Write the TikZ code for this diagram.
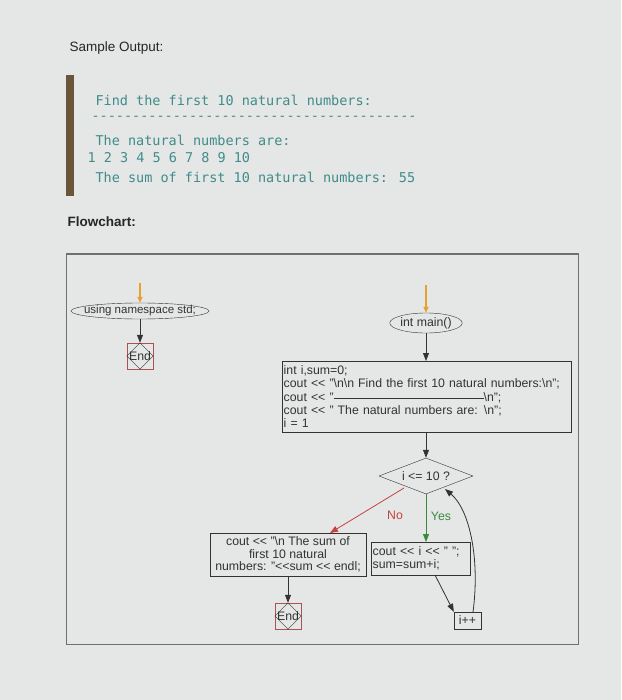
\documentclass[tikz,border=0pt]{standalone}
\usepackage{fontspec}
\setmainfont{Liberation Sans}[Ligatures=ResetAll]
\newfontfamily\consfont{DejaVu Sans Mono}
\usetikzlibrary{shapes.geometric,arrows.meta}
\definecolor{bg}{HTML}{E4E7E6}
\definecolor{cons}{HTML}{3F8C8A}
\definecolor{bar}{HTML}{6B5538}
\definecolor{fg}{HTML}{333333}
\definecolor{endred}{HTML}{B05050}
\definecolor{orng}{HTML}{E8A030}
\definecolor{noc}{HTML}{C84040}
\definecolor{yesc}{HTML}{3C8A3C}
\tikzset{
 px/.style={x=1pt,y=-1pt},
 ft/.style={font=\fontsize{12.3}{12.8}\selectfont, text=fg},
 procbox/.style={draw=fg, ft, inner sep=1.5pt},
 term/.style={draw=fg, ellipse, ft, inner sep=0pt},
 arr/.style={-{Triangle[length=8pt,width=6pt]}, draw=fg, line width=0.8pt},
 cline/.style={font=\consfont\fontsize{13.5}{15}\selectfont, text=cons, anchor=west},
}
\newcommand{\myll}{<{}<}
\newcommand{\myendmark}[2]{%
 \node[draw=endred, minimum size=26pt, inner sep=0pt] (#1) at #2 {};
 \draw[fg] (#1.north) -- (#1.east) -- (#1.south) -- (#1.west) -- cycle;
 \node[ft] at (#1.center) {End};}
\begin{document}
\begin{tikzpicture}[px]
\useasboundingbox[fill=bg] (0,0) rectangle (621,700);
\node[anchor=west, font=\fontsize{13.5}{15}\selectfont, text=black!85] (so) at (66,48) {Sample Output:};
\fill[bar] (66,75) rectangle (74,196);
\node[cline] (l1) at (92,100) {Find the first 10 natural numbers:};
\node[cline] (l2) at (88,118) {----------------------------------------};
\node[cline] (l3) at (92,140) {The natural numbers are:};
\node[cline] (l4) at (84,158) {1 2 3 4 5 6 7 8 9 10};
\node[cline] (l5) at (92,177) {The sum of first 10 natural numbers: 55};
\node[anchor=west, font=\bfseries\fontsize{13.5}{15}\selectfont, text=black!85] (fc) at (64,222) {Flowchart:};
\draw[fg!70, line width=1pt] (66,254) rectangle (578,644);
% left
\coordinate (ls) at (140,283);
\node[term, minimum width=138pt, minimum height=16pt, inner xsep=-14pt, font=\fontsize{11.5}{12}\selectfont] (ns) at (140,311) {using namespace std;};
\draw[-{Triangle[length=6pt,width=5pt]}, orng, line width=2pt] (ls) -- (ns.north);
\myendmark{e1}{(140,356)}
\draw[arr] (ns) -- (e1);
% main
\coordinate (ms) at (426,285);
\node[term, minimum width=66pt, minimum height=20pt] (mn) at (426,323) {int main()};
\draw[-{Triangle[length=6pt,width=5pt]}, orng, line width=2pt] (ms) -- (mn.north);
\node[procbox, anchor=north west, minimum height=71pt, align=left, text width=286pt, inner sep=1.5pt, font=\fontsize{12.3}{13.3}\selectfont] (b1) at (282,361)
 {int i,sum=0;\\cout \myll{} "\textbackslash n\textbackslash n Find the first 10 natural numbers:\textbackslash n";\\cout \myll{} "\rule[3pt]{150pt}{0.4pt}\textbackslash n";\\cout \myll{} " The natural numbers are: \textbackslash n";\\i = 1};
\draw[arr] (mn.south) -- (mn.south |- b1.north);
\node[diamond, draw=fg, ft, aspect=2.6, minimum width=94pt, minimum height=36pt, inner sep=0pt] (d) at (426,476) {i <= 10 ?};
\draw[arr] (mn.south |- b1.south) -- (d.north);
\node[procbox, align=center, minimum width=156pt, minimum height=43pt] (b2) at (288,554.5)
 {cout \myll{} "\textbackslash n The sum of\\first 10 natural\\numbers: "\myll sum \myll{} endl;};
\node[procbox, align=left, anchor=north west, text width=96pt, minimum height=33pt] (b3) at (371,542)
 {cout \myll{} i \myll{} " ";\\sum=sum+i;};
\node[procbox, minimum width=27pt, minimum height=17pt, inner sep=1pt] (ip) at (467.5,620.5) {i++};
\draw[-{Triangle[length=8pt,width=6pt]}, noc, line width=0.8pt] (404,488) -- (330,533);
\node[ft, text=noc] (no) at (395,515) {No};
\node[ft, text=yesc] (yes) at (441,516) {Yes};
\draw[-{Triangle[length=8pt,width=6pt]}, yesc, line width=0.8pt] (d.south) -- (d.south |- b3.north);
\draw[arr] (435,575) -- (ip.north west);
\draw[arr] (473,612) .. controls (480,560) and (470,510) .. (445,489);
\myendmark{e2}{(288,616)}
\draw[arr] (b2.south) -- (e2.north);
\end{tikzpicture}
\end{document}
